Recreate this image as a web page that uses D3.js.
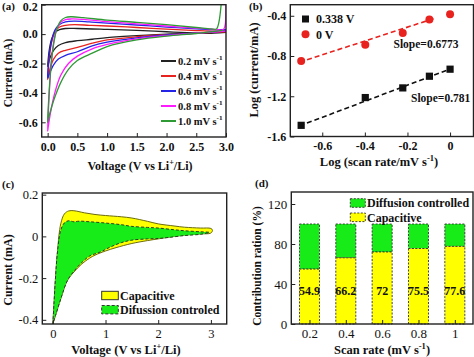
<!DOCTYPE html>
<html><head><meta charset="utf-8">
<script src="https://cdn.jsdelivr.net/npm/d3@7"></script>
<style>body{margin:0;background:#fff} svg{display:block}</style>
</head><body><svg id="fig" width="474" height="357"></svg>
<script>
// ---------- DATA ----------
// (a) CV loops: [voltage (V), current (mA)], cathodic sweep then anodic sweep
const scanRateLabels = ["0.2", "0.4", "0.6", "0.8", "1.0"];
const cv02 = [[3.0,0.012],[2.5,0.006],[2.0,0.0],[1.5,-0.01],[1.0,-0.024],[0.75,-0.035],[0.5,-0.045],[0.3,-0.058],[0.18,-0.078],[0.1,-0.11],[0.05,-0.15],[0.02,-0.19],[0.0,-0.22],
  [0.01,-0.17],[0.03,-0.1],[0.07,-0.03],[0.12,0.01],[0.2,0.03],[0.3,0.038],[0.5,0.038],[1.0,0.032],[1.5,0.025],[2.0,0.016],[2.5,0.008],[2.8,0.006],[3.0,0.012]];
const cv04 = [[3.0,0.015],[2.5,0.006],[2.0,-0.004],[1.5,-0.018],[1.0,-0.04],[0.75,-0.062],[0.5,-0.09],[0.3,-0.11],[0.18,-0.13],[0.1,-0.17],[0.05,-0.22],[0.02,-0.27],[0.0,-0.31],
  [0.01,-0.24],[0.03,-0.15],[0.07,-0.05],[0.12,0.015],[0.2,0.048],[0.3,0.06],[0.45,0.064],[0.7,0.06],[1.0,0.055],[1.5,0.045],[2.0,0.034],[2.5,0.024],[2.8,0.02],[3.0,0.022]];
const cv06 = [[3.0,0.02],[2.5,0.007],[2.0,-0.006],[1.5,-0.025],[1.0,-0.055],[0.75,-0.08],[0.5,-0.12],[0.3,-0.145],[0.18,-0.17],[0.1,-0.21],[0.05,-0.25],[0.02,-0.28],[0.0,-0.3],
  [0.01,-0.22],[0.03,-0.13],[0.07,-0.04],[0.12,0.025],[0.2,0.065],[0.3,0.083],[0.45,0.088],[0.7,0.083],[1.0,0.075],[1.5,0.062],[2.0,0.048],[2.5,0.036],[2.8,0.03],[3.0,0.03]];
const cv08 = [[3.0,0.02],[2.5,0.006],[2.0,-0.01],[1.5,-0.032],[1.0,-0.07],[0.75,-0.1],[0.5,-0.15],[0.35,-0.2],[0.22,-0.28],[0.12,-0.4],[0.05,-0.53],[0.01,-0.63],[0.0,-0.66],
  [0.01,-0.55],[0.03,-0.38],[0.06,-0.2],[0.1,-0.06],[0.15,0.03],[0.22,0.08],[0.3,0.098],[0.4,0.103],[0.6,0.1],[1.0,0.085],[1.5,0.07],[2.0,0.055],[2.5,0.04],[2.8,0.032],[2.95,0.03],[2.98,0.05],[3.0,0.21]];
const cv10 = [[2.95,0.025],[2.5,0.004],[2.0,-0.014],[1.5,-0.04],[1.0,-0.085],[0.75,-0.13],[0.5,-0.18],[0.35,-0.24],[0.22,-0.33],[0.12,-0.43],[0.05,-0.52],[0.01,-0.58],[0.0,-0.6],
  [0.01,-0.5],[0.03,-0.36],[0.06,-0.2],[0.1,-0.07],[0.15,0.03],[0.22,0.09],[0.3,0.113],[0.4,0.118],[0.6,0.112],[1.0,0.095],[1.5,0.08],[2.0,0.064],[2.5,0.045],[2.75,0.035],[2.84,0.035],[2.88,0.08],[2.92,0.21]];
const ticksAx = [0, 0.5, 1, 1.5, 2, 2.5, 3];
const ticksAy = [-0.6, -0.4, -0.2, 0, 0.2];

// (b) log-log data
const logScanRate = [-0.699, -0.398, -0.222, -0.097, 0];
const logI_0V = [-0.85, -0.687, -0.571, -0.438, -0.385];
const logI_0338V = [-1.489, -1.213, -1.117, -1.001, -0.931];
const fit0V = [[-0.707, -0.862], [-0.065, -0.42]];
const fit0338V = [[-0.707, -1.495], [0, -0.93]];
const seriesLabelsB = ["0.338 V", "0 V"];
const slopeLabels = ["Slope=0.6773", "Slope=0.781"];
const ticksBx = [-0.6, -0.4, -0.2, 0];
const ticksBy = [-1.6, -1.2, -0.8, -0.4];

// (c) capacitive (outer) and diffusion (inner) loops: [V, mA]
const capOuter = [[0.0,-0.42],[0.02,-0.33],[0.05,-0.2],[0.09,-0.066],[0.15,0.06],[0.22,0.108],[0.3,0.122],[0.4,0.123],[0.6,0.113],[0.8,0.105],[1.0,0.1],[1.3,0.094],[1.5,0.088],[1.8,0.072],[2.0,0.06],[2.3,0.05],[2.5,0.044],[2.8,0.04],[3.0,0.038],[3.03,0.03],
  [3.0,0.016],[2.8,0.012],[2.5,0.006],[2.2,-0.004],[2.0,-0.012],[1.8,-0.02],[1.5,-0.034],[1.2,-0.054],[1.0,-0.07],[0.8,-0.09],[0.7,-0.104],[0.55,-0.132],[0.44,-0.16],[0.28,-0.21],[0.15,-0.3],[0.05,-0.38],[0.0,-0.42]];
const capInner = [[0.0,-0.42],[0.02,-0.33],[0.05,-0.2],[0.09,-0.07],[0.15,0.03],[0.22,0.065],[0.3,0.075],[0.4,0.07],[0.5,0.073],[0.7,0.07],[1.0,0.064],[1.3,0.056],[1.5,0.048],[1.8,0.043],[2.0,0.04],[2.3,0.032],[2.5,0.027],[2.8,0.022],[2.97,0.019],
  [2.8,0.01],[2.5,0.004],[2.2,-0.005],[2.0,-0.01],[1.8,-0.012],[1.5,-0.018],[1.3,-0.03],[1.1,-0.05],[0.9,-0.075],[0.7,-0.094],[0.55,-0.125],[0.44,-0.155],[0.28,-0.21],[0.15,-0.3],[0.05,-0.38],[0.0,-0.42]];
const legendC = ["Capacitive", "Difussion controled"];
const ticksCx = [0, 1, 2, 3];
const ticksCy = [-0.4, -0.2, 0, 0.2];

// (d) contribution ratio
const rateCats = ["0.2", "0.4", "0.6", "0.8", "1"];
const capacitivePct = [54.9, 66.2, 72, 75.5, 77.6];
const diffusionPct = [45.1, 33.8, 28, 24.5, 22.4];
const legendD = ["Diffusion controlled", "Capacitive"];
const ticksDy = [0, 40, 80, 120];

// ---------- DRAW ----------
const FONT = "'Liberation Serif','Times New Roman',serif";
const svg = d3.select("#fig");
const YEL = "#ffff00", GRN = "#18ec18";

function rtext(parent, x, y, parts, o) {
  const fs = o.fs || 12;
  const t = parent.append("text")
    .attr("transform", `translate(${x},${y})` + (o.rot ? " rotate(-90)" : ""))
    .attr("text-anchor", o.anchor || "middle")
    .attr("font-family", FONT).attr("font-size", fs)
    .attr("font-weight", o.weight || "bold").attr("fill", o.fill || "#111");
  let shift = 0, first = true;
  parts.forEach(p => {
    const sup = p[0] === "^";
    const ts = t.append("tspan").text(sup ? p.slice(1) : p);
    let dy = first ? fs * 0.35 : 0;
    if (sup) { ts.attr("font-size", fs * 0.68); dy -= fs * 0.42; shift = fs * 0.42; }
    else if (shift) { dy += shift; shift = 0; }
    if (dy) ts.attr("dy", dy);
    first = false;
  });
  return t;
}
const hy = s => String(s).replace("\u2212", "-");

function axes(g, x, y, xt, yt, fx, fy, weight, fs) {
  const gx = g.append("g").attr("transform", `translate(0,${y.range()[0]})`)
    .call(d3.axisBottom(x).tickValues(xt).tickFormat(fx).tickSizeInner(-4).tickSizeOuter(0).tickPadding(5));
  const gy = g.append("g").attr("transform", `translate(${x.range()[0]},0)`)
    .call(d3.axisLeft(y).tickValues(yt).tickFormat(fy).tickSizeInner(-4).tickSizeOuter(0).tickPadding(4));
  [gx, gy].forEach(s => {
    s.select(".domain").remove();
    s.selectAll("line").attr("stroke", "#222").attr("stroke-width", 1);
    s.selectAll("text").attr("font-family", FONT).attr("font-size", fs)
      .attr("font-weight", weight).attr("fill", "#111");
  });
  return gy;
}
function frame(g, x, y) {
  const [x0, x1] = x.range(), [y0, y1] = y.range();
  g.append("rect").attr("x", x0).attr("y", y1).attr("width", x1 - x0).attr("height", y0 - y1)
    .attr("fill", "none").attr("stroke", "#222").attr("stroke-width", 1.4);
}
function clip(id, x, y) {
  const [x0, x1] = x.range(), [y0, y1] = y.range();
  svg.append("clipPath").attr("id", id).append("rect")
    .attr("x", x0).attr("y", y1).attr("width", x1 - x0).attr("height", y0 - y1);
}
const f1 = d => hy(d3.format(".1f")(d));
const f0orf1 = d => d === 0 ? "0" : hy(d.toFixed(1));

// ----- (a) -----
{
  const g = svg.append("g");
  const x = d3.scaleLinear().domain([-0.1, 3.0]).range([41.7, 226]);
  const y = d3.scaleLinear().domain([-0.7, 0.2]).range([137, 4.7]);
  clip("clipA", x, y);
  const colors = ["#222222", "#e8231f", "#2424e6", "#ff1aff", "#2e9a34"];
  const loops = [cv02, cv04, cv06, cv08, cv10];
  const line = d3.line().x(d => x(d[0])).y(d => y(d[1])).curve(d3.curveCatmullRom.alpha(0.5));
  const pg = g.append("g").attr("clip-path", "url(#clipA)");
  loops.forEach((L, i) => pg.append("path").attr("d", line(L)).attr("fill", "none")
    .attr("stroke", colors[i]).attr("stroke-width", 1.3));
  const gy = axes(g, x, y, ticksAx, ticksAy, f1, f1, "bold", 12);
  gy.selectAll(".tick text").filter(d => d === 0.2).attr("dy", "0.5em");
  frame(g, x, y);
  scanRateLabels.forEach((s, i) => {
    const yy = 61 + i * 15;
    g.append("line").attr("x1", 161).attr("x2", 176).attr("y1", yy).attr("y2", yy)
      .attr("stroke", colors[i]).attr("stroke-width", 2);
    rtext(g, 178, yy, [s + " mV s", "^-1"], {anchor: "start", fs: 10.5});
  });
  rtext(g, 140, 166, ["Voltage (V vs Li", "^+", "/Li)"], {fs: 12});
  rtext(g, 8, 73, ["Current (mA)"], {fs: 11.5, rot: true});
  rtext(g, 2, 6, ["(a)"], {anchor: "start", fs: 11});
}

// ----- (b) -----
{
  const g = svg.append("g");
  const x = d3.scaleLinear().domain([-0.75, 0.11]).range([290.3, 473.5]);
  const y = d3.scaleLinear().domain([-1.6, -0.29]).range([136.5, 4.7]);
  const line = d3.line().x(d => x(d[0])).y(d => y(d[1]));
  g.append("path").attr("d", line(fit0V)).attr("fill", "none").attr("stroke", "#e8231f")
    .attr("stroke-width", 1.6).attr("stroke-dasharray", "5,3");
  g.append("path").attr("d", line(fit0338V)).attr("fill", "none").attr("stroke", "#111")
    .attr("stroke-width", 1.6).attr("stroke-dasharray", "5,3");
  g.selectAll(".sq").data(logScanRate).enter().append("rect")
    .attr("x", (d) => x(d) - 3.6).attr("y", (d, i) => y(logI_0338V[i]) - 3.6)
    .attr("width", 7.2).attr("height", 7.2).attr("fill", "#111");
  g.selectAll(".ci").data(logScanRate).enter().append("circle")
    .attr("cx", d => x(d)).attr("cy", (d, i) => y(logI_0V[i])).attr("r", 4).attr("fill", "#e8231f");
  axes(g, x, y, ticksBx, ticksBy, f0orf1, f0orf1, "bold", 12);
  frame(g, x, y);
  g.append("rect").attr("x", 302).attr("y", 15.5).attr("width", 7).attr("height", 7).attr("fill", "#111");
  g.append("circle").attr("cx", 305.5).attr("cy", 34.3).attr("r", 4).attr("fill", "#e8231f");
  rtext(g, 316, 19, [seriesLabelsB[0]], {anchor: "start", fs: 12});
  rtext(g, 316, 34.3, [seriesLabelsB[1]], {anchor: "start", fs: 12});
  rtext(g, 393.5, 43.5, [slopeLabels[0]], {anchor: "start", fs: 11.5});
  rtext(g, 411, 98, [slopeLabels[1]], {anchor: "start", fs: 11.5});
  rtext(g, 379, 162, ["Log (scan rate/mV s", "^-1", ")"], {fs: 12.5});
  rtext(g, 254, 70, ["Log (current/mA)"], {fs: 12.5, rot: true});
  rtext(g, 249, 6, ["(b)"], {anchor: "start", fs: 11});
}

// ----- (c) -----
{
  const g = svg.append("g");
  const x = d3.scaleLinear().domain([-0.2, 3.3]).range([42.3, 226.7]);
  const y = d3.scaleLinear().domain([-0.42, 0.208]).range([324, 193]);
  clip("clipC", x, y);
  const line = d3.line().x(d => x(d[0])).y(d => y(d[1])).curve(d3.curveCatmullRom.alpha(0.5));
  const pg = g.append("g").attr("clip-path", "url(#clipC)");
  pg.append("path").attr("d", line(capOuter)).attr("fill", YEL).attr("stroke", "#6b6a10").attr("stroke-width", 1);
  pg.append("path").attr("d", line(capInner)).attr("fill", GRN).attr("stroke", "#2b3b2b")
    .attr("stroke-width", 1).attr("stroke-dasharray", "3,2");
  axes(g, x, y, ticksCx, ticksCy, d => String(d), f0orf1, "normal", 12.5);
  frame(g, x, y);
  g.append("rect").attr("x", 101.7).attr("y", 291.3).attr("width", 16.6).attr("height", 8.4)
    .attr("fill", YEL).attr("stroke", "#333").attr("stroke-width", 1);
  g.append("rect").attr("x", 101.7).attr("y", 305.5).attr("width", 16.6).attr("height", 8.4)
    .attr("fill", GRN).attr("stroke", "#333").attr("stroke-width", 1).attr("stroke-dasharray", "3,2");
  rtext(g, 120, 295.5, [legendC[0]], {anchor: "start", fs: 12});
  rtext(g, 120, 309.7, [legendC[1]], {anchor: "start", fs: 12});
  rtext(g, 126, 350, ["Voltage (V vs Li", "^+", "/Li)"], {fs: 12.5});
  rtext(g, 8, 270, ["Current (mA)"], {fs: 12, rot: true});
  rtext(g, 2, 183.7, ["(c)"], {anchor: "start", fs: 11});
}

// ----- (d) -----
{
  const g = svg.append("g");
  const x = d3.scalePoint().domain(rateCats).range([291.3, 473]).padding(0.5);
  const y = d3.scaleLinear().domain([0, 132]).range([324, 192]);
  const bw = 20;
  rateCats.forEach((c, i) => {
    g.append("rect").attr("x", x(c) - bw / 2).attr("y", y(capacitivePct[i] + diffusionPct[i]))
      .attr("width", bw).attr("height", y(capacitivePct[i]) - y(capacitivePct[i] + diffusionPct[i]))
      .attr("fill", GRN).attr("stroke", "#333").attr("stroke-width", 0.9).attr("stroke-dasharray", "2,1.5");
    g.append("rect").attr("x", x(c) - bw / 2).attr("y", y(capacitivePct[i]))
      .attr("width", bw).attr("height", y(0) - y(capacitivePct[i]))
      .attr("fill", YEL).attr("stroke", "#333").attr("stroke-width", 0.9).attr("stroke-dasharray", "2,1.5");
    rtext(g, x(c), y(33), [String(capacitivePct[i])], {fs: 12});
  });
  axes(g, x, y, rateCats, ticksDy, d => d, d => String(d), "normal", 13);
  frame(g, x, y);
  g.append("rect").attr("x", 350.3).attr("y", 198.7).attr("width", 15).attr("height", 8.6)
    .attr("fill", GRN).attr("stroke", "#333").attr("stroke-width", 0.9).attr("stroke-dasharray", "2,1.5");
  g.append("rect").attr("x", 350.3).attr("y", 213).attr("width", 15).attr("height", 8.6)
    .attr("fill", YEL).attr("stroke", "#333").attr("stroke-width", 0.9).attr("stroke-dasharray", "2,1.5");
  rtext(g, 367, 203, [legendD[0]], {anchor: "start", fs: 12});
  rtext(g, 367, 217.3, [legendD[1]], {anchor: "start", fs: 12});
  rtext(g, 382, 350, ["Scan rate (mV s", "^-1", ")"], {fs: 12.5});
  rtext(g, 257, 266, ["Contribution ration (%)"], {fs: 11.5, rot: true});
  rtext(g, 255, 183, ["(d)"], {anchor: "start", fs: 11});
}
</script></body></html>
